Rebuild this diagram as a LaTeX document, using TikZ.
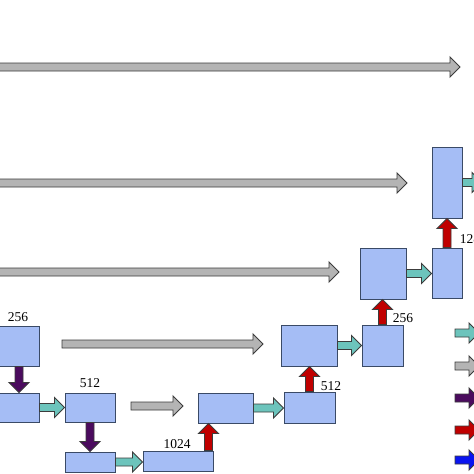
\documentclass[tikz,border=0pt]{standalone}
\usepackage{fontspec}
\setmainfont{Liberation Serif}
\usetikzlibrary{calc}
\definecolor{boxfill}{HTML}{A5BDF5}
\definecolor{boxedge}{HTML}{3A4A66}
\definecolor{arredge}{HTML}{3C3C3C}
\definecolor{tealc}{HTML}{6CC4BC}
\definecolor{grayc}{HTML}{B4B4B4}
\definecolor{purplec}{HTML}{4B0B5E}
\definecolor{redc}{HTML}{C00000}
\definecolor{bluec}{HTML}{0A14F0}
\tikzset{
  blk/.style={draw=boxedge, fill=boxfill, line width=1pt, inner sep=0pt, rectangle},
  lbl/.style={inner sep=0pt, font=\fontsize{13.5}{14}\selectfont},
  arr/.style={draw=arredge, line width=0.9pt, line join=miter},
  tealarr/.style={arr, fill=tealc},
  grayarr/.style={arr, fill=grayc},
  purparr/.style={arr, fill=purplec},
  redarr/.style={arr, fill=redc},
  bluearr/.style={arr, fill=bluec}
}
% right-pointing block arrow
\newcommand{\rarrow}[3]{\draw[#1] let \p1=#2, \p2=#3 in
  (\x1,\y1+4pt) -- (\x2-10pt,\y1+4pt) -- (\x2-10pt,\y1+10pt) -- (\x2,\y1) --
  (\x2-10pt,\y1-10pt) -- (\x2-10pt,\y1-4pt) -- (\x1,\y1-4pt) -- cycle;}
% upward block arrow
\newcommand{\uarrow}[3]{\draw[#1] let \p1=#2, \p2=#3 in
  (\x1-4pt,\y1) -- (\x1-4pt,\y2-10pt) -- (\x1-10pt,\y2-10pt) -- (\x1,\y2) --
  (\x1+10pt,\y2-10pt) -- (\x1+4pt,\y2-10pt) -- (\x1+4pt,\y1) -- cycle;}
% downward block arrow
\newcommand{\darrow}[3]{\draw[#1] let \p1=#2, \p2=#3 in
  (\x1-4pt,\y1) -- (\x1-4pt,\y2+10pt) -- (\x1-10pt,\y2+10pt) -- (\x1,\y2) --
  (\x1+10pt,\y2+10pt) -- (\x1+4pt,\y2+10pt) -- (\x1+4pt,\y1) -- cycle;}
\begin{document}
\begin{tikzpicture}[x=1pt, y=-1pt]
\useasboundingbox (0,0) rectangle (474,474);
\clip (0,0) rectangle (474,474);
\fill[white] (0,0) rectangle (474,474);

% boxes
\node[blk, minimum width=44pt, minimum height=40pt] (A) at (17,346) {};
\node[blk, minimum width=44pt, minimum height=29pt] (B) at (17,407.5) {};
\node[blk, minimum width=50pt, minimum height=29pt] (C) at (90,407.5) {};
\node[blk, minimum width=50pt, minimum height=20pt] (D) at (90,462) {};
\node[blk, minimum width=70pt, minimum height=20pt] (E) at (178,461) {};
\node[blk, minimum width=55pt, minimum height=30pt] (F) at (225.5,408) {};
\node[blk, minimum width=51pt, minimum height=31pt] (G) at (309.5,407.5) {};
\node[blk, minimum width=56pt, minimum height=41pt] (H) at (309,345.5) {};
\node[blk, minimum width=41pt, minimum height=41pt] (I) at (382.5,345.5) {};
\node[blk, minimum width=46pt, minimum height=51pt] (J) at (383,273.5) {};
\node[blk, minimum width=30pt, minimum height=50pt] (L) at (447,273) {};
\node[blk, minimum width=30pt, minimum height=71pt] (K) at (447,182.5) {};

% labels
\node[lbl] (lA) at (18,317) {256};
\node[lbl] (lC) at (90,383) {512};
\node[lbl] (lE) at (177,444) {1024};
\node[lbl] (lG) at (331,386) {512};
\node[lbl] (lI) at (403,318) {256};
\node[lbl] (lL) at (470,239) {128};

% free ends of the skip connections and outputs
\coordinate (s1a) at (-5,67);   \coordinate (s1b) at (460,67);
\coordinate (s2a) at (-5,183);  \coordinate (s2b) at (407,183);
\coordinate (s3a) at (-5,272);  \coordinate (s3b) at (339,272);
\coordinate (s4a) at (62,344);  \coordinate (s4b) at (263,344);
\coordinate (s5a) at (131,406); \coordinate (s5b) at (183,406);
\coordinate (outK) at (482,181);

% legend arrows
\coordinate (g1a) at (455,333); \coordinate (g1b) at (479,333);
\coordinate (g2a) at (455,366); \coordinate (g2b) at (479,366);
\coordinate (g3a) at (455,398); \coordinate (g3b) at (479,398);
\coordinate (g4a) at (455,430); \coordinate (g4b) at (479,430);
\coordinate (g5a) at (455,460); \coordinate (g5b) at (479,460);

% gray skip arrows
\rarrow{grayarr}{(s1a)}{(s1b)}
\rarrow{grayarr}{(s2a)}{(s2b)}
\rarrow{grayarr}{(s3a)}{(s3b)}
\rarrow{grayarr}{(s4a)}{(s4b)}
\rarrow{grayarr}{(s5a)}{(s5b)}

% teal arrows
\rarrow{tealarr}{(B.east)}{(C.west)}
\rarrow{tealarr}{(D.east)}{(E.west)}
\rarrow{tealarr}{(F.east)}{(G.west)}
\rarrow{tealarr}{(H.east)}{(I.west)}
\rarrow{tealarr}{(J.east)}{(L.west)}
\rarrow{tealarr}{(K.east)}{(outK)}

% purple down arrows
\darrow{purparr}{($(A.south)+(2,0)$)}{(B.north)}
\darrow{purparr}{(C.south)}{(D.north)}

% red up arrows
\uarrow{redarr}{($(E.north east)+(-5,0)$)}{(F.south)}
\uarrow{redarr}{(G.north)}{(H.south)}
\uarrow{redarr}{(I.north)}{(J.south)}
\uarrow{redarr}{(L.north)}{(K.south)}

% legend
\rarrow{tealarr}{(g1a)}{(g1b)}
\rarrow{grayarr}{(g2a)}{(g2b)}
\rarrow{purparr}{(g3a)}{(g3b)}
\rarrow{redarr}{(g4a)}{(g4b)}
\rarrow{bluearr}{(g5a)}{(g5b)}
\end{tikzpicture}
\end{document}
